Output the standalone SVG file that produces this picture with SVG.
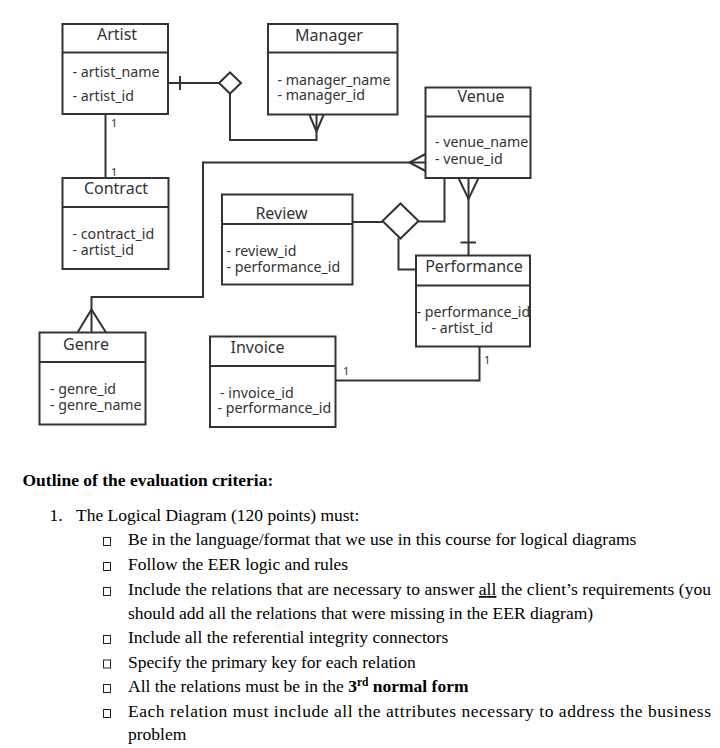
<svg xmlns="http://www.w3.org/2000/svg" width="720" height="748" viewBox="0 0 720 748">
<style>
.box{fill:#fff;stroke:#333;stroke-width:2}
.div{stroke:#333;stroke-width:2}
.title{font-family:"Noto Sans","DejaVu Sans",sans-serif;font-size:16px;fill:#333;text-anchor:middle}
.attr{font-family:"Noto Sans","DejaVu Sans",sans-serif;font-size:14.2px;fill:#333}
.conn{fill:none;stroke:#333;stroke-width:2}
.dia{fill:#fff;stroke:#333;stroke-width:2}
.lbl{font-family:"Noto Sans","DejaVu Sans",sans-serif;font-size:11px;fill:#333}
.doc{font-family:"Liberation Serif","Times New Roman",serif;font-size:17.5px;fill:#000}
.b{font-weight:bold}
.chk{fill:none;stroke:#222;stroke-width:1}
</style>
<defs>
<clipPath id="cGenre"><rect x="39.5" y="332.5" width="106" height="92"/></clipPath>
<clipPath id="cPerf"><rect x="416" y="255.5" width="114" height="91"/></clipPath>
<clipPath id="cInv"><rect x="210" y="336.5" width="125.5" height="90.5"/></clipPath>
</defs>

<g id="connectors">
<path class="conn" d="M168,83 H219"/>
<path class="conn" d="M180,76 V90"/>
<path class="conn" d="M230,94 V140 H316.5 V114.5"/>
<path class="conn" d="M309.5,115 L316.5,131.5 L323.5,115"/>
<path class="conn" d="M105.5,114 V178"/>
<path class="conn" d="M425.5,162.5 H203 V297 H91.5 V332.5"/>
<path class="conn" d="M425.5,154 L409.5,162.5 L425.5,171"/>
<path class="conn" d="M77.5,332.5 L91.5,309.5 L106,332.5"/>
<path class="conn" d="M352.5,222 H382.5"/>
<path class="conn" d="M418.5,221.5 H444.5 V178"/>
<path class="conn" d="M398.5,238 V269.5 H416"/>
<path class="conn" d="M468.5,178 V255.5"/>
<path class="conn" d="M458.5,178 L468.5,199 L478.5,178"/>
<path class="conn" d="M460.5,242.5 H476"/>
<path class="conn" d="M335.5,380.5 H479.5 V346.5"/>
<polygon class="dia" points="219,83 230,72.5 241,83 230,93.5"/>
<polygon class="dia" points="382.5,221 400.5,203.5 418.5,221 400.5,238.5"/>
<text class="lbl" x="111" y="127">1</text>
<text class="lbl" x="111" y="176">1</text>
<text class="lbl" x="343" y="375">1</text>
<text class="lbl" x="484" y="363.5">1</text>
</g>

<g id="artist">
<rect class="box" x="62.5" y="24" width="105.5" height="90"/>
<line class="div" x1="62.5" y1="52.5" x2="168" y2="52.5"/>
<text class="title" x="117" y="40">Artist</text>
<text class="attr" x="72.5" y="77">- artist_name</text>
<text class="attr" x="72.5" y="100.5">- artist_id</text>
</g>

<g id="manager">
<rect class="box" x="268" y="24" width="129.5" height="90.5"/>
<line class="div" x1="268" y1="52.5" x2="397.5" y2="52.5"/>
<text class="title" x="329" y="40.5">Manager</text>
<text class="attr" x="277.5" y="84.5">- manager_name</text>
<text class="attr" x="277.5" y="100">- manager_id</text>
</g>

<g id="venue">
<rect class="box" x="425.5" y="87.5" width="105" height="90.5"/>
<line class="div" x1="425.5" y1="116.5" x2="530.5" y2="116.5"/>
<text class="title" x="481" y="102">Venue</text>
<text class="attr" x="435" y="146.5">- venue_name</text>
<text class="attr" x="435" y="164">- venue_id</text>
</g>

<g id="contract">
<rect class="box" x="62.5" y="178" width="106" height="91"/>
<line class="div" x1="62.5" y1="207" x2="168.5" y2="207"/>
<text class="title" x="116" y="194">Contract</text>
<text class="attr" x="72.5" y="238.5">- contract_id</text>
<text class="attr" x="72.5" y="255">- artist_id</text>
</g>

<g id="review">
<rect class="box" x="222" y="194.5" width="130.5" height="90"/>
<line class="div" x1="222" y1="224" x2="352.5" y2="224"/>
<text class="title" x="281.5" y="219">Review</text>
<text class="attr" x="226.5" y="255.5">- review_id</text>
<text class="attr" x="226.5" y="271.5">- performance_id</text>
</g>

<g id="performance">
<rect class="box" x="416" y="255.5" width="114" height="91"/>
<line class="div" x1="416" y1="285.5" x2="530" y2="285.5"/>
<text class="title" x="474" y="271.5">Performance</text>
<g clip-path="url(#cPerf)">
<text class="attr" x="416.5" y="316.5">- performance_id</text>
<text class="attr" x="431.5" y="333">- artist_id</text>
</g>
</g>

<g id="genre">
<rect class="box" x="39.5" y="332.5" width="106" height="92"/>
<line class="div" x1="39.5" y1="362" x2="145.5" y2="362"/>
<text class="title" x="86" y="350">Genre</text>
<g clip-path="url(#cGenre)">
<text class="attr" x="50" y="394">- genre_id</text>
<text class="attr" x="50" y="410">- genre_name</text>
</g>
</g>

<g id="invoice">
<rect class="box" x="210" y="336.5" width="125.5" height="90.5"/>
<line class="div" x1="210" y1="366" x2="335.5" y2="366"/>
<text class="title" x="257.5" y="352.5">Invoice</text>
<g clip-path="url(#cInv)">
<text class="attr" x="220" y="398">- invoice_id</text>
<text class="attr" x="217.5" y="413">- performance_id</text>
</g>
</g>

<g id="criteria">
<text class="doc b" x="22.5" y="486">Outline of the evaluation criteria:</text>
<text class="doc" x="49.5" y="521">1.</text>
<text class="doc" x="76" y="521">The Logical Diagram (120 points) must:</text>
<rect class="chk" x="103.5" y="537.5" width="7" height="8"/>
<rect class="chk" x="103.5" y="562.5" width="7" height="8"/>
<rect class="chk" x="103.5" y="587.5" width="7" height="8"/>
<rect class="chk" x="103.5" y="635.5" width="7" height="8"/>
<rect class="chk" x="103.5" y="660" width="7" height="8"/>
<rect class="chk" x="103.5" y="684.5" width="7" height="8"/>
<rect class="chk" x="103.5" y="709.5" width="7" height="8"/>
<text class="doc" x="128" y="545">Be in the language/format that we use in this course for logical diagrams</text>
<text class="doc" x="128" y="570">Follow the EER logic and rules</text>
<text class="doc" x="128" y="595" textLength="583" lengthAdjust="spacing">Include the relations that are necessary to answer <tspan text-decoration="underline">all</tspan> the client’s requirements (you</text>
<text class="doc" x="128" y="618.5">should add all the relations that were missing in the EER diagram)</text>
<text class="doc" x="128" y="643">Include all the referential integrity connectors</text>
<text class="doc" x="128" y="667.5">Specify the primary key for each relation</text>
<text class="doc" x="128" y="692">All the relations must be in the <tspan class="b">3</tspan><tspan class="b" font-size="11.5" dy="-6">rd</tspan><tspan class="b" dy="6"> normal form</tspan></text>
<text class="doc" x="128" y="717" textLength="583" lengthAdjust="spacing">Each relation must include all the attributes necessary to address the business</text>
<text class="doc" x="128" y="740">problem</text>
</g>
</svg>
